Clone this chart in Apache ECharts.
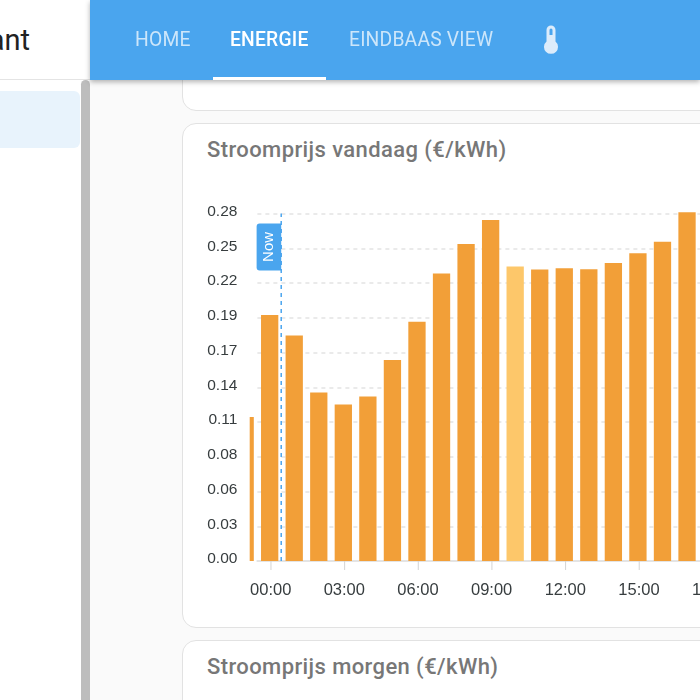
<!DOCTYPE html>
<html>
<head>
<meta charset="utf-8">
<title>Stroomprijs</title>
<script src="https://cdn.jsdelivr.net/npm/echarts@6/dist/echarts.min.js"></script>
<style>
html, body { margin: 0; padding: 0; width: 700px; height: 700px; overflow: hidden; background: #fafafa; font-family: Roboto, sans-serif; }
div { position: absolute; box-sizing: border-box; }
.sidebar { left: 0; top: 0; width: 90px; height: 700px; background: #fff; overflow: hidden; }
.brand { right: 60px; top: 20px; height: 40px; line-height: 40px; font-size: 29px; color: #222; white-space: nowrap; }
.brandline { left: 0; top: 79px; width: 90px; height: 1px; background: #e4e4e4; }
.selected { left: -10px; top: 91px; width: 90px; height: 57px; background: #e8f3fc; border-radius: 6px; }
.scroll { left: 81px; top: 80px; width: 9px; height: 630px; background: #bdbdbd; border-radius: 5px 5px 0 0; }
.header { left: 90px; top: 0; width: 610px; height: 80px; background: #4aa5ee; box-shadow: 0 2px 5px rgba(0,0,0,.3); z-index: 3; }
.tab { top: 25px; height: 30px; line-height: 30px; font-size: 19.3px; color: rgba(255,255,255,.72); white-space: nowrap; letter-spacing: .2px; }
.tab.on { color: #fff; font-weight: 500; }
.bar { left: 123px; top: 77px; width: 113px; height: 3px; background: #fff; }
.card { left: 182px; width: 560px; background: #fff; border: 1px solid #e2e2e2; border-radius: 14px; }
.title { left: 207px; font-size: 22px; letter-spacing: .4px; font-weight: 500; color: #777; white-space: nowrap; }
#chart { left: 0; top: 0; width: 760px; height: 700px; z-index: 2; }
</style>
</head>
<body>
<div class="sidebar">
  <div class="brand">Home Assistant</div>
  <div class="brandline"></div>
  <div class="selected"></div>
</div>
<div class="scroll"></div>
<div class="card" style="top:40px;height:71px"></div>
<div class="card" style="top:123px;height:505px"></div>
<div class="card" style="top:640px;height:120px"></div>
<div class="title" style="top:137px">Stroomprijs vandaag (€/kWh)</div>
<div class="title" style="top:654px">Stroomprijs morgen (€/kWh)</div>
<div class="header">
  <div class="tab" style="left:45px">HOME</div>
  <div class="tab on" style="left:140px">ENERGIE</div>
  <div class="tab" style="left:259px">EINDBAAS VIEW</div>
  <div class="bar"></div>
  <svg style="position:absolute;left:451px;top:25px" width="20" height="30" viewBox="0 0 20 30">
    <path fill="#dcecfb" fill-rule="evenodd" d="M5.5 5a4.5 4.5 0 0 1 9 0v11.5a7 7 0 1 1-9 0zM8.5 5v5h3V5a1.5 1.5 0 0 0-3 0z"/>
  </svg>
</div>
<div id="chart"></div>
<script>
var hours = ['00:00','01:00','02:00','03:00','04:00','05:00','06:00','07:00','08:00','09:00','10:00','11:00','12:00','13:00','14:00','15:00','16:00','17:00','18:00'];
var prices = [0.1965,0.180,0.1346,0.125,0.1314,0.1605,0.191,0.2296,0.2532,0.2724,0.2351,0.2327,0.2338,0.233,0.238,0.2458,0.255,0.2785,null];
var tickHours = ['00:00','03:00','06:00','09:00','12:00','15:00','18:00'];
// bar from the evening before, mostly cut off on the left
var prevHour = -1;
var prevPrice = 0.115;
var currentHour = 10;
var nowHour = 0.47;
var nowLabelPrice = 0.2508;
var axisMax = 0.2775;
var axisStep = 0.02775;

var ORANGE = '#f29f38';
var LIGHT = '#fdc76a';
var BLUE = '#4aa5ee';
var GRID_TOP = 213.5, GRID_H = 347.5;

var myChart = echarts.init(document.getElementById('chart'));

var barData = prices.map(function(v, i){
    return {value: v, itemStyle: {color: i == currentHour ? LIGHT : ORANGE}};
});

var option = {
    animation: false,
    backgroundColor: 'transparent',
    grid: [
        {left: 257.4, top: GRID_TOP, width: 466.45, height: GRID_H},
        // bars on a value axis get clipped one grid width outside it, so this
        // 4px grid really cuts the bar off at 249.7
        {left: 253.7, top: GRID_TOP, width: 4, height: GRID_H}
    ],
    xAxis: [
        {
            type: 'category',
            gridIndex: 0,
            position: 'bottom',
            data: hours,
            axisLine: {show: true, onZero: false, lineStyle: {color: '#e4e4e4', width: 2}},
            axisTick: {show: false},
            axisLabel: {interval: 2, margin: 21, fontFamily: 'Liberation Sans', fontSize: 16.5, color: '#373d3f', padding: [0, 0, 0, 2]}
        },
        // evening-before bar, hours on a plain scale so it can run off the edge
        {type: 'value', gridIndex: 1, show: false, min: -0.6517, max: -0.4888},
        // same hours over the main grid, for the "now" marker
        {type: 'value', gridIndex: 0, show: false, min: -0.5, max: 18.5}
    ],
    yAxis: [
        {
            type: 'value',
            gridIndex: 0,
            min: 0,
            max: axisMax,
            interval: axisStep,
            axisLine: {show: false},
            axisTick: {show: false},
            splitLine: {lineStyle: {color: '#e3e3e3', type: [4, 4], width: 1.5}},
            axisLabel: {
                margin: 20,
                fontFamily: 'Liberation Sans',
                fontSize: 15.5,
                color: '#373d3f',
                // moves the labels up a little, they sit above their grid lines
                verticalAlign: 'bottom',
                lineHeight: 4,
                formatter: function(v){ return v.toFixed(2); }
            }
        },
        {type: 'value', gridIndex: 1, show: false, min: 0, max: axisMax}
    ],
    series: [
        {
            name: 'Stroomprijs',
            type: 'bar',
            xAxisIndex: 0,
            yAxisIndex: 0,
            barWidth: 17.3,
            clip: false,
            data: barData
        },
        {
            name: 'Vorige',
            type: 'bar',
            xAxisIndex: 1,
            yAxisIndex: 1,
            barWidth: 17.3,
            itemStyle: {color: ORANGE},
            data: [[prevHour, prevPrice]]
        },
        {
            // ticks sit a little right of the bar centres, axisTick can't do that
            name: 'Ticks',
            type: 'scatter',
            xAxisIndex: 0,
            yAxisIndex: 0,
            clip: false,
            symbol: 'rect',
            symbolSize: [1, 9],
            symbolOffset: [1.3, 4.5],
            itemStyle: {color: '#d4d4d4', opacity: 1},
            data: tickHours.map(function(h){ return [h, 0]; })
        },
        {
            name: 'Now',
            type: 'line',
            xAxisIndex: 2,
            yAxisIndex: 0,
            symbol: 'none',
            z: 5,
            lineStyle: {color: BLUE, width: 1.5, type: [4, 4]},
            data: [[nowHour, 0], [nowHour, axisMax]]
        },
        {
            name: 'NowLabel',
            type: 'scatter',
            xAxisIndex: 2,
            yAxisIndex: 0,
            clip: false,
            z: 4,
            symbol: 'path://M3,0H24.6V47H3A3,3,0,0,1,0,44V3A3,3,0,0,1,3,0Z',
            symbolKeepAspect: false,
            symbolSize: [24.6, 47],
            symbolOffset: [-12.3, 0],
            itemStyle: {color: BLUE, opacity: 1},
            label: {
                show: true,
                position: 'inside',
                rotate: 90,
                formatter: 'Now',
                fontFamily: 'Liberation Sans',
                fontSize: 15,
                color: '#fff'
            },
            data: [[nowHour, nowLabelPrice]]
        }
    ]
};

myChart.setOption(option);
</script>
</body>
</html>
